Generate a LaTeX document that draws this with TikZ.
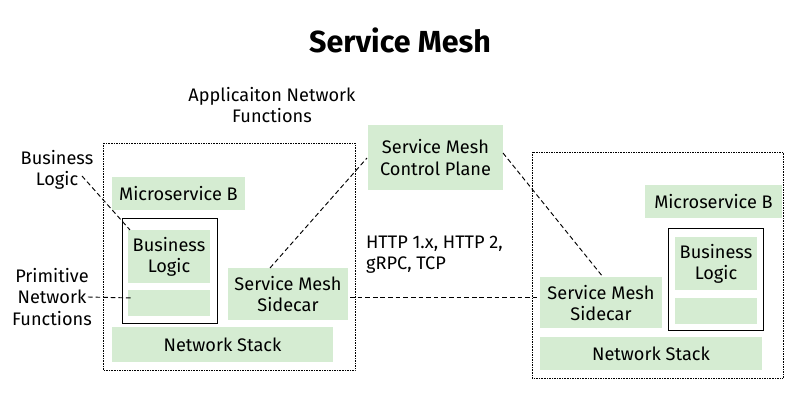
\documentclass[tikz,border=0pt]{standalone}
\usepackage{fontspec}
\setmainfont{Fira Sans}
\usepackage{tikz}
\definecolor{boxgreen}{HTML}{D5ECD2}
\tikzset{
  box/.style={fill=boxgreen, draw=none},
  frame/.style={draw, densely dotted, thin},
  inner/.style={draw, thin},
  lbl/.style={font=\fontsize{15.5}{18}\selectfont, align=center},
  link/.style={draw, dash pattern=on 4pt off 2.5pt, thick}
}
\begin{document}
\begin{tikzpicture}[x=0.03cm,y=-0.03cm]
			\useasboundingbox (0,0) rectangle (800,400);
			% TITLE
			\node[font=\fontsize{26}{30}\selectfont\bfseries] (title) at (400,40) {Service Mesh};
			\node[lbl] (appfn) at (272,105) {Applicaiton Network\\Functions};

			% LEFT SERVICE
			\draw[frame] (103,143) rectangle (355,370);
			\draw[box] (112,177) rectangle (245,210);
			\node[lbl] (msl) at (178.5,193.5) {Microservice B};
			\draw[inner] (122,218) rectangle (217,323);
			\draw[box] (128,230) rectangle (210,283);
			\node[lbl] (bll) at (169,256.5) {Business\\Logic};
			\draw[box] (128,290) rectangle (210,316);
			\coordinate (pnl) at (132,298);
			\coordinate (bltop) at (130,230);
			\draw[box] (228,268) rectangle (348,320);
			\node[lbl] (scl) at (288,294) {Service Mesh\\Sidecar};
			\coordinate (scltop) at (270,268);
			\coordinate (sclright) at (350,297);
			\draw[box] (112,327) rectangle (333,362);
			\node[lbl] (nsl) at (222.5,344.5) {Network Stack};

			% CONTROL PLANE
			\draw[box] (368,125) rectangle (503,190);
			\node[lbl] (cp) at (435.5,157.5) {Service Mesh\\Control Plane};
			\coordinate (cpleft) at (367,158);
			\coordinate (cpright) at (503,153);
			\node[lbl, align=left, anchor=north west] (proto) at (362,232) {HTTP 1.x, HTTP 2,\\gRPC, TCP};

			% RIGHT SERVICE
			\draw[frame] (532,152) rectangle (783,378);
			\draw[box] (645,185) rectangle (782,218);
			\node[lbl] (msr) at (713.5,201.5) {Microservice B};
			\draw[inner] (668,228) rectangle (763,330);
			\draw[box] (675,237) rectangle (757,290);
			\node[lbl] (blr) at (716,263.5) {Business\\Logic};
			\draw[box] (675,298) rectangle (757,324);
			\draw[box] (540,277) rectangle (662,328);
			\node[lbl] (scr) at (601,303) {Service Mesh\\Sidecar};
			\coordinate (scrtop) at (603,277);
			\coordinate (scrleft) at (540,297);
			\draw[box] (540,337) rectangle (762,370);
			\node[lbl] (nsr) at (651,353.5) {Network Stack};

			% SIDE LABELS
			\node[lbl] (blt) at (57,170) {Business\\Logic};
			\node[lbl] (pnt) at (52,297) {Primitive\\Network\\Functions};
			\coordinate (bltend) at (82,176);

			% LINKS
			\draw[link] (bltend) -- (bltop);
			\draw[link] (pnt.east) ++(-8,0) -- (pnl);
			\draw[link] (scltop) -- (cpleft);
			\draw[link] (cpright) -- (scrtop);
			\draw[link] (sclright) -- (scrleft);
		\end{tikzpicture}
\end{document}
